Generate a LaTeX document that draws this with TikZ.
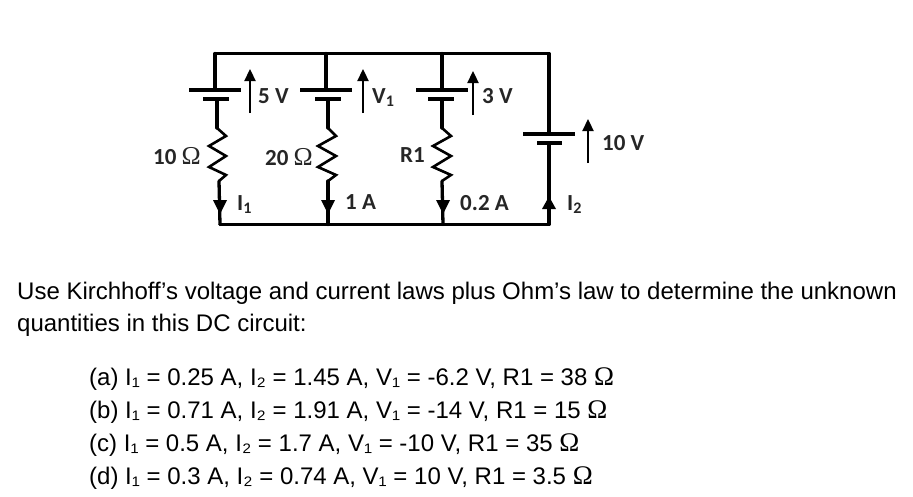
\documentclass[tikz,border=0pt]{standalone}
\usepackage{fontspec}
\setmainfont{Liberation Sans}
\newfontfamily\lblfont{Carlito}[BoldFont=* Bold]
\newfontfamily\omegafont{Liberation Serif}[Scale=1.12]
\newcommand{\Om}{{\omegafont\fontseries{m}\selectfont Ω}}
\usetikzlibrary{arrows.meta}
\begin{document}
\begin{tikzpicture}[x=1pt,y=-1pt,
  wire/.style={line width=3.3pt,line cap=round,line join=round,black},
  rwire/.style={line width=2.6pt,line join=miter,black},
  flowtip/.style={fill=black,draw=none},
  plate/.style={line width=3.3pt,black},
  shortplate/.style={line width=4.7pt,black},
  varrow/.style={line width=2.3pt,black,-{Triangle[length=12pt,width=11pt]}},
  lbl/.style={font=\lblfont\bfseries\fontsize{23}{25}\selectfont,anchor=base west,inner sep=0pt,text=black!85},
  body/.style={font=\fontsize{24}{28}\selectfont,anchor=base west,inner sep=0pt,text=black}]
\useasboundingbox (0,0) rectangle (913,496);
% corners and junctions
\coordinate (tl) at (215,53.5);
\coordinate (tm) at (326,53.5);
\coordinate (tr3) at (442,53.5);
\coordinate (tr) at (549,53.5);
\coordinate (bl) at (220,224.5);
\coordinate (bm) at (328,224.5);
\coordinate (br3) at (443,224.5);
\coordinate (br) at (549,224.5);
\coordinate (dtop) at (549,134);
\coordinate (dbot) at (549,143);
\draw[wire] (dtop) -- (tr) -- (tr3) -- (tm) -- (tl);
\draw[wire] (dbot) -- (br) -- (br3) -- (bm) -- (bl);
% battery plates
\foreach \n/\x/\xs in {a/215/216,b/326/328,c/442/441}{
  \coordinate (\n1) at (\x-26,90);
  \coordinate (\n2) at (\x+26,90);
  \coordinate (\n3) at (\xs-13,99);
  \coordinate (\n4) at (\xs+13,99);
  \draw[plate] (\n1) -- (\n2);
  \draw[shortplate] (\n3) -- (\n4);
}
\coordinate (d1) at (523,134); \coordinate (d2) at (575,134);
\coordinate (d3) at (537,143); \coordinate (d4) at (562,143);
\draw[plate] (d1) -- (d2);
\draw[shortplate] (d3) -- (d4);
% wires from top to plate
\coordinate (am) at (215,90); \coordinate (bmt) at (326,90); \coordinate (cm) at (442,90);
\draw[wire] (tl) -- (am);
\draw[wire] (tm) -- (bmt);
\draw[wire] (tr3) -- (cm);
% resistor branches
\foreach \n/\xa/\xb/\xc/\xl/\xr in {A/217/219/220/209/226,B/328/328/328/318/336,C/442/442/443/433/451}{
  \coordinate (\n s) at (\xa,99);
  \coordinate (\n t) at (\xa,128);
  \coordinate (\n b) at (\xb,181);
  \coordinate (\n e) at (\xc,224.5);
  \draw[wire] (\n s) -- (\n t);
  \draw[rwire] (\n t) -- (\xr,136) -- (\xl,146) -- (\xr,156) -- (\xl,167) -- (\xr,175) -- (\n b);
  \draw[wire] (\n b) -- (\n e);
  \coordinate (\n h) at (\xc,214);
  \coordinate (\n hl) at (\xc-7,200);
  \coordinate (\n hr) at (\xc+7,200);
  \fill[flowtip] (\n h) -- (\n hl) -- (\n hr) -- cycle;
}
% right branch arrowhead
\coordinate (Dh) at (549,196.5); \coordinate (Dhl) at (542,209); \coordinate (Dhr) at (556,209);
\fill[flowtip] (Dh) -- (Dhl) -- (Dhr) -- cycle;
% voltage arrows
\coordinate (v1s) at (250,113); \coordinate (v1e) at (250,69);
\coordinate (v2s) at (363,113); \coordinate (v2e) at (363,69);
\coordinate (v3s) at (473,115); \coordinate (v3e) at (473,71);
\coordinate (v4s) at (588,163); \coordinate (v4e) at (588,119);
\draw[varrow] (v1s) -- (v1e);
\draw[varrow] (v2s) -- (v2e);
\draw[varrow] (v3s) -- (v3e);
\draw[varrow] (v4s) -- (v4e);
% labels
\node[lbl] (l5v) at (258,103) {5 V};
\node[lbl] (lv1) at (372,103) {V\textsubscript{1}};
\node[lbl] (l3v) at (482,103) {3 V};
\node[lbl] (l10v) at (602,150) {10 V};
\node[lbl] (l10o) at (153,164) {10 \Om};
\node[lbl] (l20o) at (265,165) {20 \Om};
\node[lbl] (lr1) at (400,162) {R1};
\node[lbl] (li1) at (237,210) {I\textsubscript{1}};
\node[lbl] (l1a) at (345,209) {1 A};
\node[lbl] (l02) at (460,210) {0.2 A};
\node[lbl] (li2) at (567,210) {I\textsubscript{2}};
% body text
\node[body] (t1) at (17,299) {Use Kirchhoff’s voltage and current laws plus Ohm’s law to determine the unknown};
\node[body] (t2) at (17,331) {quantities in this DC circuit:};
\node[body] (a) at (89,385) {(a) I₁ = 0.25 A, I₂ = 1.45 A, V₁ = -6.2 V, R1 = 38 \Om};
\node[body] (b) at (89,418) {(b) I₁ = 0.71 A, I₂ = 1.91 A, V₁ = -14 V, R1 = 15 \Om};
\node[body] (c) at (89,451) {(c) I₁ = 0.5 A, I₂ = 1.7 A, V₁ = -10 V, R1 = 35 \Om};
\node[body] (d) at (89,484) {(d) I₁ = 0.3 A, I₂ = 0.74 A, V₁ = 10 V, R1 = 3.5 \Om};
\end{tikzpicture}
\end{document}
